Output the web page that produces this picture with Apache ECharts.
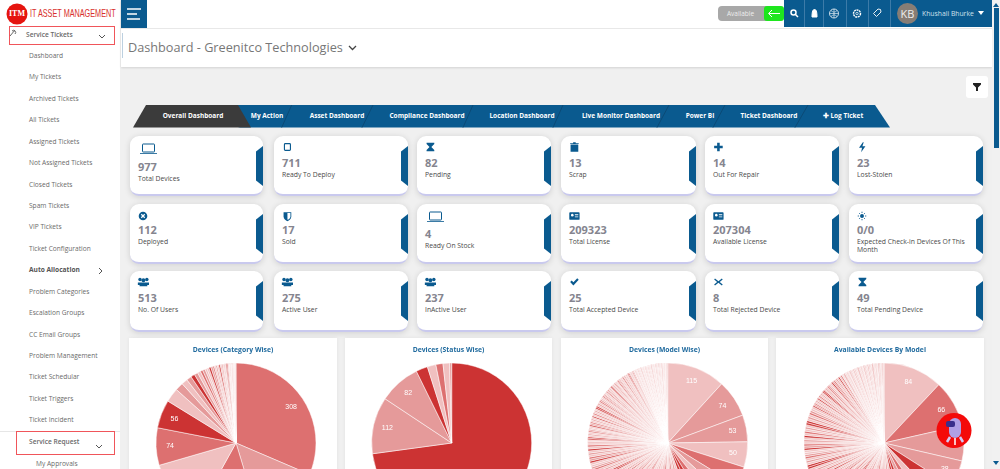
<!DOCTYPE html>
<html>
<head>
<meta charset="utf-8">
<title>Dashboard - Greenitco Technologies</title>
<script src="https://cdn.jsdelivr.net/npm/echarts@6/dist/echarts.min.js"></script>
<style>
html, body { margin: 0; padding: 0; width: 1000px; height: 469px; overflow: hidden; background: #f0f0f0; font-family: "Open Sans", sans-serif; }
div, span, svg { position: absolute; }
.side { left: 29px; font-size: 6.6px; color: #6a6a6a; white-space: nowrap; line-height: 10px; }
.box { border: 1.5px solid #f0555a; box-sizing: border-box; }
.tab { top: 111px; color: #fff; font-size: 6.5px; font-weight: 700; line-height: 10px; transform: translateX(-50%); white-space: nowrap; }
.card { background: #fff; border-radius: 9px; border-bottom: 2px solid #c9c9ee; box-sizing: border-box; box-shadow: 0 1px 6px rgba(0,0,0,.14); }
.notch { right: 0; top: 10px; width: 7px; height: 40px; background: #0a5a8f; clip-path: polygon(100% 0, 0 14%, 0 86%, 100% 100%); }
.num { left: 8px; color: #85858f; font-size: 11px; font-weight: 700; line-height: 12px; }
.lab { left: 8px; color: #4a4a4a; font-size: 6.8px; line-height: 8px; white-space: nowrap; }
.pcard { background: #fff; top: 338px; height: 140px; box-shadow: 0 0 4px rgba(0,0,0,.06); }
#pies { left: 125px; top: 335px; width: 840px; height: 134px; }
</style>
</head>
<body>
<div id="page"></div>
<div class="pcard" style="left:129px;width:208px"></div>
<div class="pcard" style="left:345px;width:207px"></div>
<div class="pcard" style="left:561px;width:207px"></div>
<div class="pcard" style="left:776px;width:208px"></div>
<div id="pies"></div>
<svg style="left:935px;top:412px" width="38" height="38" viewBox="0 0 38 38">
  <path d="M12 32 l6 4 l3-3z" fill="#f40a0a"/>
  <circle cx="19" cy="18.5" r="17.5" fill="#f40a0a"/>
  <rect x="14" y="6" width="12" height="20" rx="6" fill="#b0a0e6"/>
  <rect x="11" y="9" width="9" height="6" rx="2" fill="#3a2f8c"/>
  <path d="M15 25 l-3 5 M25 25 l3 5" stroke="#d4caf4" stroke-width="2.5"/>
  <path d="M20 26 v7" stroke="#fff" stroke-width="1.5"/>
</svg>
<script>
// dashboard text
const sideItems = ['Dashboard', 'My Tickets', 'Archived Tickets', 'All Tickets', 'Assigned Tickets', 'Not Assigned Tickets', 'Closed Tickets', 'Spam Tickets', 'VIP Tickets', 'Ticket Configuration', 'Auto Allocation', 'Problem Categories', 'Escalation Groups', 'CC Email Groups', 'Problem Management', 'Ticket Schedular', 'Ticket Triggers', 'Ticket Incident']
const sideY = [51, 72, 94, 115, 137, 158, 180, 201, 222, 244, 265, 287, 308, 330, 351, 372, 394, 415]
const tabNames = ['Overall Dashboard', 'My Action', 'Asset Dashboard', 'Compliance Dashboard', 'Location Dashboard', 'Live Monitor Dashboard', 'Power BI', 'Ticket Dashboard', '✚ Log Ticket']
const tabCenters = [193, 267, 337, 427, 522, 621, 700, 769, 843]
const cardValues = ['977', '711', '82', '13', '14', '23', '112', '17', '4', '209323', '207304', '0/0', '513', '275', '237', '25', '8', '49']
const cardLabels = ['Total Devices', 'Ready To Deploy', 'Pending', 'Scrap', 'Out For Repair', 'Lost-Stolen', 'Deployed', 'Sold', 'Ready On Stock', 'Total License', 'Available License', 'Expected Check-in Devices Of This<br>Month', 'No. Of Users', 'Active User', 'InActive User', 'Total Accepted Device', 'Total Rejected Device', 'Total Pending Device']
const cardIcons = ['laptop', 'tablet', 'glass', 'trash', 'plus', 'bolt', 'xcircle', 'shield', 'laptop', 'idcard', 'idcard', 'sun', 'users', 'users', 'users', 'check', 'cross', 'glass']

// pie values, clockwise from the top
const pieTitles = ['Devices (Category Wise)', 'Devices (Status Wise)', 'Devices (Model Wise)', 'Available Devices By Model']
const categoryValues = [308, 136, 125, 122, 74, 56, 28, 16, 12, 10, 8, 7, 6, 5, 5, 4, 4, 4, 4, 3, 3, 3, 3, 3, 3, 2, 2, 2, 2, 2, 2, 2, 1, 1, 1, 1, 1, 1, 1, 1, 1, 1, 1, 1, 1, 1]
const statusValues = [711, 112, 82, 23, 17, 14, 13, 4]
const modelValues = [115, 74, 53, 50, 38, 30, 24, 20, 16, 14, 12, 11, 10, 9, 8, 8, 7, 7, 7, 6, 6, 6, 6, 5, 5, 5, 5, 5, 5, 5, 5, 5, 5, 5, 5,
  4, 4, 4, 4, 4, 4, 4, 4, 4, 4, 4, 4, 4, 4, 4, 4, 4, 4, 4, 4, 4, 4, 4, 4, 4, 4, 4, 4, 4, 4, 4, 4, 4, 4,
  3, 3, 3, 3, 3, 3, 3, 3, 3, 3, 3, 3, 3, 3, 3, 3, 3, 3, 3, 3, 3, 3, 3, 3, 3, 3, 3, 3, 3, 3, 3, 3,
  2, 2, 2, 2, 2, 2, 2, 2, 2, 2, 2, 2, 2, 2, 2, 2, 2, 2, 2, 2, 2, 2, 2, 2, 2, 2, 2, 2, 2, 2, 2, 2, 2, 2, 2, 2, 2, 2, 2, 2,
  1, 1, 1, 1, 1, 1, 1, 1, 1, 1, 1, 1, 1, 1, 1, 1, 1, 1, 1, 1, 1, 1, 1, 1, 1, 1, 1, 1, 1, 1, 1, 1, 1, 1,
  1, 1, 1, 1, 1, 1, 1, 1, 1, 1, 1, 1, 1, 1, 1, 1, 1, 1, 1, 1, 1, 1, 1, 1, 1, 1, 1, 1, 1, 1, 1, 1, 1, 1]
const availableValues = [84, 66, 50, 38, 26, 18, 14, 12, 10, 9, 8, 7, 6, 5, 5, 5, 5, 5, 5,
  4, 4, 4, 4, 4, 4, 4, 4, 4, 4, 4, 4, 4, 4, 4, 4,
  3, 3, 3, 3, 3, 3, 3, 3, 3, 3, 3, 3, 3, 3, 3, 3, 3, 3, 3, 3, 3, 3, 3, 3, 3, 3, 3, 3, 3, 3, 3, 3, 3, 3, 3, 3, 3, 3, 3, 3, 3, 3, 3, 3, 3,
  2, 2, 2, 2, 2, 2, 2, 2, 2, 2, 2, 2, 2, 2, 2, 2, 2, 2, 2, 2, 2, 2, 2, 2, 2, 2, 2, 2, 2, 2,
  1, 1, 1, 1, 1, 1, 1, 1, 1, 1, 1, 1, 1, 1, 1, 1, 1, 1, 1, 1, 1, 1, 1, 1, 1, 1, 1, 1, 1, 1, 1,
  1, 1, 1, 1, 1, 1, 1, 1, 1, 1, 1, 1, 1, 1, 1, 1, 1, 1, 1, 1, 1, 1, 1, 1, 1, 1, 1, 1, 1, 1, 1]
const labelFrom = [56, 82, 50, 38]

const BLUE = '#0a5a8f'
const R = '#cc3333', D = '#dd7070', M = '#e59a9a', L = '#f0c0c0'
const heads = [
  [D, M, D, L, D, R, L, M, L, M, R],
  [R, M, M, R, L, D, L, M],
  [L, M, M, L, D, M, L, D],
  [L, D, M, M, R, L, D, M]
]
const streak = [M, L, R, L, D, L, M, L, R, R, L, M, L, D, M, L, L, R, M, D, L]

const icons = {
  laptop: '<rect x="2.500" y="1" width="12" height="8" rx=".6" fill="none" stroke="#0a5a8f"/><path d="M0 10h17v.8H0z"/>',
  tablet: '<rect x="5" y="3" width="7" height="8" rx="1" fill="none" stroke="#0a5a8f" stroke-width="1.300"/>',
  glass: '<path d="M4 2h9v1.400l-3.400 3.600 3.400 3.600V12H4v-1.400L7.400 7 4 3.400z"/>',
  trash: '<path d="M4 4h9v8.500H4zM3.500 2.500h10v1h-10zM7 1.500h3v1H7z"/>',
  plus: '<path d="M7 2h3v3.500h3.500v3H10V12H7V8.500H3.500v-3H7z"/>',
  bolt: '<path d="M9 1.500L4.500 8H8l-1 5 5-7H8.500l1.500-4.500z"/>',
  xcircle: '<circle cx="8" cy="7" r="5"/><path d="M6 5l4 4M10 5l-4 4" stroke="#fff" stroke-width="1.400"/>',
  shield: '<path d="M4 2.500h9v5c0 3-2.500 4.500-4.500 5.500C6.500 12 4 10.500 4 7.500z"/><path d="M8.500 3.500h3.500v4c0 2-2 3.500-3.500 4z" fill="#fff"/>',
  idcard: '<rect x="2.500" y="2.500" width="12" height="9" rx="1"/><circle cx="6" cy="6" r="1.500" fill="#fff"/><path d="M9 5h4v1H9zM9 7.500h4v1H9z" fill="#fff"/>',
  sun: '<circle cx="8" cy="7" r="2.300"/><path d="M8 2v1.500M8 10.500V12M3 7h1.500M11.500 7H13M4.500 3.500l1 1M10.500 9.500l1 1M11.500 3.500l-1 1M5.500 9.500l-1 1" stroke="#0a5a8f"/>',
  users: '<circle cx="4.500" cy="4" r="2"/><circle cx="12.500" cy="4" r="2"/><circle cx="8.500" cy="5" r="2.300"/><path d="M2 7.500h13v3H13V12H4v-1.500H2z"/>',
  check: '<path d="M3.500 7l1.800-1.800 2 2 4.500-4.700L13.500 4.300 7.300 11z"/>',
  cross: '<path d="M4.500 3l4 3 4-3 1 1.200L10 7l3.500 2.800-1 1.200-4-3-4 3-1-1.200L7 7 3.500 4.200z"/>'
}

const div = (css, html, cls) => `<div ${cls ? `class="${cls}" ` : ''}style="${css}">${html || ''}</div>`
const svgIcon = (name, x, y, w, h) => `<svg style="left:${x}px;top:${y}px" width="${w}" height="${h}" viewBox="0 0 ${name === 'laptop' ? '17 11' : '16 14'}" fill="${BLUE}">${icons[name]}</svg>`

let html = ''
// sidebar
html += div('left:0;top:0;width:120px;height:469px;background:#fff')
html += `<svg style="left:6px;top:3px" width="24" height="22"><circle cx="11" cy="11" r="10.500" fill="#e5140f"/></svg>`
html += div('left:6px;top:8px;width:22px;text-align:center;color:#fff;font:bold 8px/12px \'Liberation Serif\',serif', 'ITM')
html += div('left:30px;top:7px;color:#d8302c;font:11px/13px \'Liberation Sans\',sans-serif;white-space:nowrap;transform:scaleX(.66);transform-origin:left top', 'IT ASSET MANAGEMENT')
html += div('left:9px;top:26px;width:106px;height:19px', '', 'box')
html += div('left:26px;top:30px;font-weight:600', 'Service Tickets', 'side')
html += `<svg style="left:8px;top:28px" width="10" height="10"><path d="M2 8 L7 2 M4 3 a2 2 0 1 1 3 3" stroke="#666" fill="none"/></svg>`
html += `<svg style="left:98px;top:34px" width="8" height="5"><path d="M1 1l3 3 3-3" stroke="#555" fill="none"/></svg>`
sideItems.forEach((t, i) => {
  html += div(`top:${sideY[i]}px;${t === 'Auto Allocation' ? 'font-weight:700;color:#555' : ''}`, t, 'side')
})
html += `<svg style="left:98px;top:267px" width="5" height="8"><path d="M1 1l3 3-3 3" stroke="#555" fill="none"/></svg>`
html += div('left:0;top:431px;width:120px;height:1px;background:#e6e6e6')
html += div('left:16px;top:431px;width:99px;height:24px', '', 'box')
html += div('left:29px;top:437px;font-weight:600', 'Service Request', 'side')
html += `<svg style="left:95px;top:444px" width="8" height="5"><path d="M1 1l3 3 3-3" stroke="#555" fill="none"/></svg>`
html += div('left:36px;top:459px', 'My Approvals', 'side')

// header
html += div('left:121px;top:0;width:871px;height:67px;background:#fff;box-shadow:0 1px 2px rgba(0,0,0,.12)')
html += div('left:121px;top:0;width:26px;height:28px;background:' + BLUE)
html += `<svg style="left:126px;top:7px" width="16" height="14"><path d="M1 2h14M1 7h10M1 12h13" stroke="#fff" stroke-width="1.400"/></svg>`
html += div('left:121px;top:28px;width:871px;height:1px;background:#e8e8e8')
html += div('left:122px;top:33px;width:1px;height:25px;background:#bcd0e0')
html += div('left:128px;top:38px;font-size:12.700px;line-height:18px;color:#777;white-space:nowrap', 'Dashboard - Greenitco Technologies')
html += `<svg style="left:348px;top:45px" width="9" height="6"><path d="M1 1l3.500 3.500L8 1" stroke="#444" stroke-width="1.300" fill="none"/></svg>`
html += div('left:718px;top:6px;width:50px;height:15px;background:#a8a8a8;border-radius:4px 0 0 4px;color:#eee;font-size:6.500px;line-height:15px;text-indent:9px', 'Available')
html += div('left:764px;top:6px;width:20px;height:15px;background:#1ee61e;border-radius:3px')
html += `<svg style="left:767px;top:9px" width="14" height="9"><path d="M13 4.500H2M5 1L1.500 4.500 5 8" stroke="#fff" fill="none"/></svg>`
html += div('left:784px;top:0;width:208px;height:27px;background:' + BLUE)
const headIconX = [804, 823, 846, 868, 890]
headIconX.forEach(x => { html += div(`left:${x}px;top:0;width:1px;height:27px;background:#3d7ba8`) })
html += `<svg style="left:788px;top:7px" width="100" height="14" fill="none" stroke="#fff">
  <circle cx="5.500" cy="5.500" r="2.500" stroke-width="1.500"/><path d="M7.500 7.500l2.500 2.500" stroke-width="1.500"/>
  <path d="M24 10c0-6 1-7.500 2.500-7.500S29 4 29 10z" fill="#fff"/>
  <circle cx="46" cy="6.500" r="4.500" stroke-width=".8"/><path d="M41.500 6.500h9M46 2v9M43 3.500c2 2 4 2 6 0M43 9.500c2-2 4-2 6 0" stroke-width=".6"/>
  <circle cx="69" cy="6.500" r="3.500" stroke-width="1.400" stroke-dasharray="2 .6"/><circle cx="69" cy="6.500" r="1.200" stroke-width=".7"/>
  <path d="M88 9l-2.500-2.500 4.500-4.500 2.500 .5 .5 2.500-4.500 4.500z" stroke-width=".9"/></svg>`
html += div('left:897px;top:3px;width:21px;height:21px;border-radius:50%;background:#877d75;color:#eee;font-size:11px;line-height:21px;text-align:center', 'KB')
html += div('left:922px;top:9px;color:#cfe0ec;font-size:6.800px;line-height:9px;white-space:nowrap', 'Khushali Bhurke')
html += `<svg style="left:978px;top:11px" width="6" height="4"><path d="M0 0h6L3 4z" fill="#fff"/></svg>`
// scrollbar and filter
html += div('left:992px;top:0;width:8px;height:469px;background:#f1f1f1')
html += div('left:993.500px;top:8px;width:5px;height:140px;background:' + BLUE)
html += `<svg style="left:993px;top:3px" width="6" height="4"><path d="M0 4h6L3 0z" fill="${BLUE}"/></svg>`
html += `<svg style="left:993px;top:461px" width="6" height="4"><path d="M0 0h6L3 4z" fill="${BLUE}"/></svg>`
html += div('left:966px;top:76px;width:22px;height:22px;background:#fff;border-radius:3px')
html += `<svg style="left:973px;top:83px" width="8" height="8"><path d="M0 0h8v1.500L5 4.500V8H3V4.500L0 1.500z" fill="#222"/></svg>`

// tab strip
html += `<svg style="left:128px;top:103px" width="770" height="28" viewBox="128 103 770 28">
  <path d="M146 105H875L890 127.500H240z" fill="${BLUE}"/>
  <path d="M146 105H238L251 127.500H133z" fill="#3b3b3b"/>
  <path d="M291.700 105l-10 22.500M373 105l-11 22.500M473 105l-10 22.500M563 105l-10 22.500M669 105l-12 22.500M725 105l-12 22.500M808 105l-13 22.500" stroke="#0a4a76" stroke-width="1"/></svg>`
tabNames.forEach((t, i) => { html += div(`left:${tabCenters[i]}px`, t, 'tab') })

// stat cards
const colX = [130, 274, 417, 561, 705, 849]
const colW = [133, 134, 134, 135, 134, 134]
const rowY = [136, 204, 271]
const rowH = [60, 60, 61]
const rowNumY = [21, 20, 21]
cardValues.forEach((v, i) => {
  const c = i % 6, r = Math.floor(i / 6)
  const laptop = cardIcons[i] === 'laptop'
  const numY = rowNumY[r] + (laptop ? 4 : 0)
  const body = (laptop ? svgIcon('laptop', 10, 7, 17, 11) : svgIcon(cardIcons[i], 6, r === 1 ? 6 : 5, 14, 12)) +
    div(`top:${numY}px`, v, 'num') + div(`top:${numY + 14}px`, cardLabels[i], 'lab') + div('', '', 'notch')
  html += div(`left:${colX[c]}px;top:${rowY[r]}px;width:${colW[c]}px;height:${rowH[r]}px`, body, 'card')
})
document.getElementById('page').innerHTML = html

// pies
const pieX = [111, 326.7, 542.7, 759]
const titleX = [108, 323.5, 539.5, 755]
const pieValues = [categoryValues, statusValues, modelValues, availableValues]
const chart = echarts.init(document.getElementById('pies'), null, { renderer: 'canvas' })
const fillColors = (head, n) => {
  const out = head.slice()
  while (out.length < n) out.push(streak[out.length % streak.length])
  return out
}
const series = []
pieValues.forEach((vals, i) => {
  const colors = fillColors(heads[i], vals.length)
  series.push({
    type: 'pie', center: [pieX[i], 108], radius: [0, 80], startAngle: 90, clockwise: true,
    data: vals.map((v, k) => ({ value: v, itemStyle: { color: colors[k] } })), silent: true,
    label: { show: false }, labelLine: { show: false }, animation: false,
    itemStyle: { borderColor: '#fff', borderWidth: 0.5 }
  })
  // transparent ring that only places the value labels near the rim
  series.push({
    type: 'pie', center: [pieX[i], 108], radius: [46, 80], startAngle: 90, clockwise: true,
    data: vals.map(v => ({ value: v })), silent: true, animation: false, avoidLabelOverlap: false,
    itemStyle: { color: 'transparent', borderWidth: 0 }, labelLine: { show: false },
    label: {
      show: true, position: 'inside', color: '#fff', fontSize: 7, fontFamily: 'Liberation Sans',
      formatter: p => (p.value >= labelFrom[i] ? String(p.value) : '')
    }
  })
})
chart.setOption({
  animation: false,
  title: pieTitles.map((t, i) => ({
    text: t, left: titleX[i], top: 12, padding: 0, textAlign: 'center',
    textStyle: { color: '#1f6a9e', fontSize: 6.8, fontWeight: 700, fontFamily: 'Open Sans' }
  })),
  series: series
})
</script>
</body>
</html>
